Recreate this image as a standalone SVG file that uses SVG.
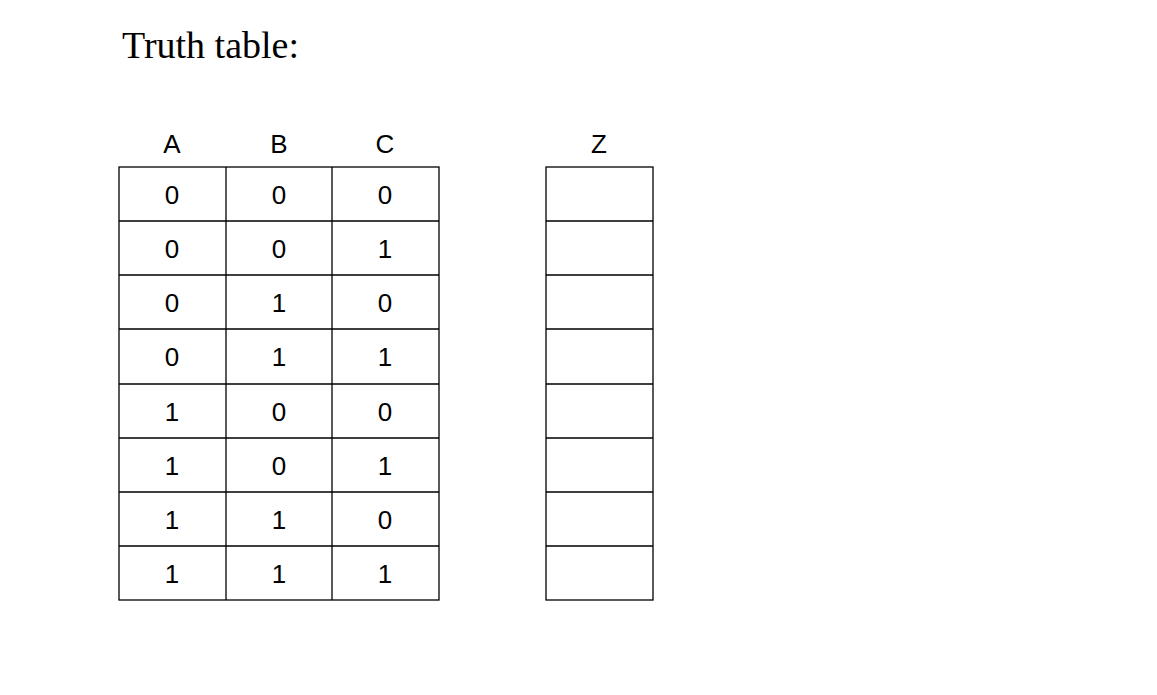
<svg xmlns="http://www.w3.org/2000/svg" width="1157" height="695" viewBox="0 0 1157 695">
<style>
.c{fill:#fff;stroke:#000;stroke-width:1.3}
.t{font-family:"Liberation Sans",Arial,sans-serif;font-size:26px;text-anchor:middle}
</style>
<rect width="1157" height="695" fill="#fff"/>
<text x="122" y="58" font-family="Liberation Serif,serif" font-size="38">Truth table:</text>
<g id="headers" class="t">
<text x="172" y="153" class="t">A</text><text x="279" y="153" class="t">B</text><text x="385" y="153" class="t">C</text><text x="599" y="153" class="t">Z</text>
</g>
<g id="table">
<rect class="c" x="119" y="167" width="320" height="433"/>
<line class="c" x1="226" y1="167" x2="226" y2="600"/><line class="c" x1="332" y1="167" x2="332" y2="600"/>
<path class="c" d="M119 221H439M119 275H439M119 329H439M119 384H439M119 438H439M119 492H439M119 546H439"/>
</g>
<g id="z">
<rect class="c" x="546" y="167" width="107" height="433"/>
<path class="c" d="M546 221H653M546 275H653M546 329H653M546 384H653M546 438H653M546 492H653M546 546H653"/>
</g>
<g id="values" class="t">
<text x="172" y="204" class="t">0</text><text x="279" y="204" class="t">0</text><text x="385" y="204" class="t">0</text>
<text x="172" y="258" class="t">0</text><text x="279" y="258" class="t">0</text><text x="385" y="258" class="t">1</text>
<text x="172" y="312" class="t">0</text><text x="279" y="312" class="t">1</text><text x="385" y="312" class="t">0</text>
<text x="172" y="366" class="t">0</text><text x="279" y="366" class="t">1</text><text x="385" y="366" class="t">1</text>
<text x="172" y="421" class="t">1</text><text x="279" y="421" class="t">0</text><text x="385" y="421" class="t">0</text>
<text x="172" y="475" class="t">1</text><text x="279" y="475" class="t">0</text><text x="385" y="475" class="t">1</text>
<text x="172" y="529" class="t">1</text><text x="279" y="529" class="t">1</text><text x="385" y="529" class="t">0</text>
<text x="172" y="583" class="t">1</text><text x="279" y="583" class="t">1</text><text x="385" y="583" class="t">1</text>
</g>
</svg>
